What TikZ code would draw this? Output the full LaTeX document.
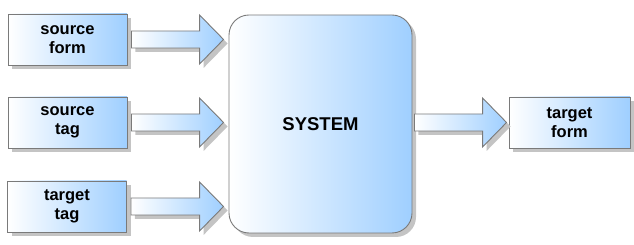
\documentclass[tikz,border=0pt]{standalone}
\usepackage{fontspec}
\setmainfont{Liberation Sans}
\definecolor{boxBlue}{HTML}{9FCFFF}
\definecolor{edgeGray}{HTML}{7A7A7A}
\definecolor{shadowGray}{HTML}{C4C4C4}
\usetikzlibrary{calc, shadows}

% fat block arrow from #1 to the tip #2 (same height)
\newcommand{\fatarrow}[2]{%
  \draw[fatarr] let \p1=#1, \p2=#2 in
    (\x1,\y1-8.5) -- (\x2-24,\y1-8.5) -- (\x2-24,\y1-24.5) -- (\x2,\y1)
    -- (\x2-24,\y1+24.5) -- (\x2-24,\y1+8.5) -- (\x1,\y1+8.5) -- cycle;}

\begin{document}
\begin{tikzpicture}[
    x=1pt, y=1pt,
    shade/.style={left color=white, right color=boxBlue, draw=edgeGray, line width=0.9pt,
      drop shadow={shadow xshift=4pt, shadow yshift=-4pt, fill=shadowGray, opacity=1}},
    box/.style={shade, rectangle, minimum width=119pt, minimum height=51pt, align=center,
      inner sep=0pt, font=\fontsize{16.5}{19}\selectfont\bfseries},
    fatarr/.style={shade}
]
\useasboundingbox (0,0) rectangle (634,245);

% Inputs
\node[box] (sform) at (67.5, 205.5) {source\\form};
\node[box] (stag) at (67.5, 122.5) {source\\tag};
\node[box] (ttag) at (67, 38.5) {target\\tag};

% System
\node[shade, rectangle, rounded corners=20pt, minimum width=183pt, minimum height=218pt,
  font=\fontsize{18.5}{22}\selectfont\bfseries] (sys) at (320.5, 121) {SYSTEM};

% Output
\node[box, minimum width=121pt] (tform) at (569.5, 122.5) {target\\form};

% Arrows
\fatarrow{($(sform.east)+(4,0)$)}{($(sys.west |- sform.east)+(-5,0)$)}
\fatarrow{($(stag.east)+(4,0)$)}{($(sys.west |- stag.east)+(-5,0)$)}
\fatarrow{($(ttag.east)+(4,0)$)}{($(sys.west |- ttag.east)+(-5,0)$)}
\fatarrow{($(sys.east |- tform.west)+(2,0)$)}{($(tform.west)+(-2,0)$)}

\end{tikzpicture}
\end{document}
